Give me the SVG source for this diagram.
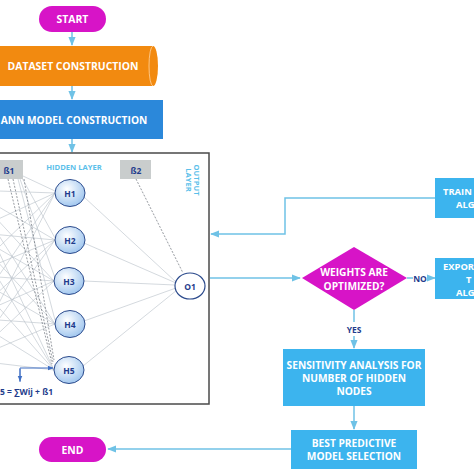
<svg xmlns="http://www.w3.org/2000/svg" width="474" height="474" viewBox="0 0 474 474">
<style>
text{font-family:"Open Sans","Noto Sans","DejaVu Sans",sans-serif;font-weight:bold;text-anchor:middle;dominant-baseline:central}
.w{fill:#fff;font-size:10.4px}
.wb{fill:#fff;font-size:10.2px}
.ws{fill:#fff;font-size:9.4px;text-anchor:start}
.db{fill:#1f3c8c}
.mag{fill:#d714c7}
.lb{fill:#3cb4ee}
.con{stroke:#6fc2e6;stroke-width:1.5;fill:none}
.nn{stroke:#b7bfc8;stroke-width:0.6;fill:none}
.dash{stroke:#6a7078;stroke-width:0.7;stroke-dasharray:2 1.5;fill:none}
.hid{fill:url(#hg);stroke:#2b4a8c;stroke-width:1}
.lay{font-size:7.6px;fill:#5bc0ea}
</style>
<defs>
<marker id="ar" viewBox="0 0 10 10" refX="9" refY="5" markerWidth="6" markerHeight="6" orient="auto">
<path d="M0,1 L10,5 L0,9 Z" fill="#6fc2e6"/>
</marker>
<marker id="ard" viewBox="0 0 10 10" refX="9" refY="5" markerWidth="6" markerHeight="6" orient="auto">
<path d="M0,1 L10,5 L0,9 Z" fill="#3f6fc4"/>
</marker>
<radialGradient id="hg" cx="0.4" cy="0.35" r="0.7">
<stop offset="0" stop-color="#ffffff"/>
<stop offset="1" stop-color="#9cc4ee"/>
</radialGradient>
</defs>
<rect width="474" height="474" fill="#fff"/>

<g id="connectors">
<path class="con" d="M72,32 V45" marker-end="url(#ar)"/>
<path class="con" d="M72,86 V99" marker-end="url(#ar)"/>
<path class="con" d="M72,139 V152" marker-end="url(#ar)"/>
<path class="con" d="M435,198 H285 V234 H211" marker-end="url(#ar)"/>
<path class="con" d="M210,278 H300" marker-end="url(#ar)"/>
<path class="con" d="M407,278 H413"/>
<path class="con" d="M427,278 H435" marker-end="url(#ar)"/>
<path class="con" d="M354,310 V322"/>
<path class="con" d="M354,336 V348" marker-end="url(#ar)"/>
<path class="con" d="M354,406 V429" marker-end="url(#ar)"/>
<path class="con" d="M291,449 H108" marker-end="url(#ar)"/>
<text x="420" y="278" class="db" style="font-size:8.5px">NO</text>
<text x="354" y="329" class="db" style="font-size:8.5px">YES</text>
</g>

<g id="start">
<rect x="39" y="6" width="67" height="26" rx="13" class="mag"/>
<text x="72.5" y="19" class="w">START</text>
</g>

<g id="dataset">
<path d="M-2,46 H153 A5,20 0 0 1 153,86 H-2 Z" fill="#f28a10"/>
<path d="M153,46 A4,20 0 0 0 153,86" fill="none" stroke="#ffd3a0" stroke-width="0.8"/>
<text x="73" y="65.5" class="w">DATASET CONSTRUCTION</text>
</g>

<g id="ann">
<rect x="-2" y="100" width="165" height="39" fill="#2b88da"/>
<text x="74" y="119.5" class="w" style="font-size:10.2px">ANN MODEL CONSTRUCTION</text>
</g>

<g id="network">
<rect x="-5" y="153" width="214" height="251" fill="#fff" stroke="#4a4a4a" stroke-width="1.5"/>
<g class="nn">
<path d="M-30,190 L55,193 M-30,190 L55,240 M-30,190 L54,281 M-30,190 L55,324 M-30,190 L54,370"/>
<path d="M-30,232 L55,193 M-30,232 L55,240 M-30,232 L54,281 M-30,232 L55,324 M-30,232 L54,370"/>
<path d="M-30,275 L55,193 M-30,275 L55,240 M-30,275 L54,281 M-30,275 L55,324 M-30,275 L54,370"/>
<path d="M-30,318 L55,193 M-30,318 L55,240 M-30,318 L54,281 M-30,318 L55,324 M-30,318 L54,370"/>
<path d="M-30,360 L55,193 M-30,360 L55,240 M-30,360 L54,281 M-30,360 L55,324 M-30,360 L54,370"/>
<path d="M23,176 L55,191 M22,178 L55,238 M20,179 L55,278 M18,179 L55,320"/>
<path d="M84,197 L176,282 M84,243 L176,283 M84,281 L175,285 M84,321 L176,288 M83,366 L177,290"/>
</g>
<path class="dash" d="M8,179 L52,364 M13,179 L53,362 M24,179 L54,360"/>
<path class="dash" d="M136,179 L183,273"/>
<rect x="-2" y="160" width="25" height="19" fill="#c9cdcd"/>
<text x="9" y="170" class="db" style="font-size:8.5px">ß1</text>
<rect x="120" y="160" width="31" height="19" fill="#c9cdcd"/>
<text x="136" y="170" class="db" style="font-size:8.5px">ß2</text>
<text x="74" y="167" class="lay">HIDDEN LAYER</text>
<text transform="translate(197,180) rotate(90)" class="lay">OUTPUT</text>
<text transform="translate(189,180) rotate(90)" class="lay">LAYER</text>
<g id="h1"><ellipse cx="70" cy="193" rx="15" ry="13.5" class="hid"/><text x="70" y="193.5" class="db" style="font-size:8.5px">H1</text></g>
<g id="h2"><ellipse cx="70" cy="240" rx="15" ry="13.5" class="hid"/><text x="70" y="240.5" class="db" style="font-size:8.5px">H2</text></g>
<g id="h3"><ellipse cx="69" cy="281" rx="15" ry="13.5" class="hid"/><text x="69" y="281.5" class="db" style="font-size:8.5px">H3</text></g>
<g id="h4"><ellipse cx="70" cy="324" rx="15" ry="13.5" class="hid"/><text x="70" y="324.5" class="db" style="font-size:8.5px">H4</text></g>
<g id="h5"><ellipse cx="69" cy="370" rx="15" ry="13.5" class="hid"/><text x="69" y="370.5" class="db" style="font-size:8.5px">H5</text></g>
<g id="o1"><ellipse cx="190" cy="286" rx="15" ry="13" fill="#fff" stroke="#2b4a8c" stroke-width="1.2"/><text x="190" y="286.5" class="db" style="font-size:8.5px">O1</text></g>
<path d="M20,382 V368 H53" fill="none" stroke="#3f6fc4" stroke-width="1" marker-end="url(#ard)"/>
<path d="M20,369 V381" fill="none" stroke="#3f6fc4" stroke-width="1" marker-end="url(#ard)"/>
<text x="0" y="391" class="db" style="font-size:8.5px;text-anchor:start">5 = ∑Wij + ß1</text>
</g>

<g id="training">
<rect x="435" y="178" width="45" height="40" class="lb"/>
<text x="443" y="191" class="ws">TRAIN</text>
<text x="456" y="204" class="ws">ALG</text>
</g>

<g id="decision">
<path d="M354,247 L407,278 L354,310 L302,278 Z" class="mag"/>
<text x="354" y="272" class="wb">WEIGHTS ARE</text>
<text x="354" y="286" class="wb">OPTIMIZED?</text>
</g>

<g id="export">
<rect x="435" y="258" width="45" height="41" class="lb"/>
<text x="443" y="266" class="ws">EXPOR</text>
<text x="466" y="279" class="ws">T</text>
<text x="456" y="292" class="ws">ALG</text>
</g>

<g id="sensitivity">
<rect x="283" y="349" width="142" height="57" class="lb"/>
<text x="354" y="365" class="wb">SENSITIVITY ANALYSIS FOR</text>
<text x="354" y="378" class="wb">NUMBER OF HIDDEN</text>
<text x="354" y="390.5" class="wb">NODES</text>
</g>

<g id="best">
<rect x="291" y="430" width="126" height="39" class="lb"/>
<text x="354" y="443" class="wb">BEST PREDICTIVE</text>
<text x="354" y="456" class="wb">MODEL SELECTION</text>
</g>

<g id="end">
<rect x="39" y="437" width="67" height="25" rx="12.5" class="mag"/>
<text x="72.5" y="449.5" class="w">END</text>
</g>
</svg>
